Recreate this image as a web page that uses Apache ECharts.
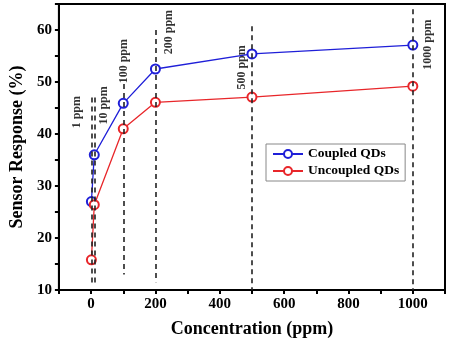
<!DOCTYPE html>
<html>
<head>
<meta charset="utf-8">
<script src="https://cdn.jsdelivr.net/npm/echarts@6/dist/echarts.min.js"></script>
<style>
html,body{margin:0;padding:0;background:#fff;}
#main{width:474px;height:352px;}
</style>
</head>
<body>
<div id="main"></div>
<script>
var conc = [1, 10, 100, 200, 500, 1000];
var coupled = [27, 36, 45.9, 52.5, 55.4, 57.1];
var uncoupled = [15.8, 26.4, 41.0, 46.1, 47.1, 49.2];
// dashed guide lines: x, top, bottom (data units)
var guideX = [1, 10, 100, 200, 500, 1000];
var guideTop = [47, 47, 49.6, 60, 60.7, 64];
var guideBot = [11, 11, 13, 11.5, 10, 10];
// rotated ppm labels: x, y, text
var tagX = [-43, 40, 102, 242, 468, 1047];
var tagY = [44.2, 45.5, 54, 59.6, 52.8, 57.2];
var tagText = ['1 ppm', '10 ppm', '100 ppm', '200 ppm', '500 ppm', '1000 ppm'];

var font = 'Liberation Serif';
var chart = echarts.init(document.getElementById('main'));

function pairs(xs, ys){
    var out = [];
    for (var i = 0; i < xs.length; i++) out.push([xs[i], ys[i]]);
    return out;
}

var guides = [];
for (var i = 0; i < guideX.length; i++) {
    guides.push([{coord: [guideX[i], guideTop[i]]}, {coord: [guideX[i], guideBot[i]]}]);
}
var tags = [];
for (var j = 0; j < tagX.length; j++) {
    tags.push({value: [tagX[j], tagY[j]], name: tagText[j]});
}

var option = {
    animation: false,
    grid: {left: 58, right: 29, top: 4, bottom: 62, show: true, borderColor: '#000', borderWidth: 2},
    legend: {
        orient: 'vertical',
        left: 266, top: 144,
        padding: [3, 6, 3, 6],
        itemGap: 3,
        itemWidth: 30, itemHeight: 10,
        borderColor: '#888', borderWidth: 1,
        data: ['Coupled QDs', 'Uncoupled QDs'],
        textStyle: {fontFamily: font, fontWeight: 'bold', fontSize: 13.5, color: '#000'}
    },
    xAxis: {
        type: 'value', min: -100, max: 1100, interval: 100,
        name: 'Concentration (ppm)', nameLocation: 'middle', nameGap: 30,
        nameTextStyle: {fontFamily: font, fontWeight: 'bold', fontSize: 18, color: '#000'},
        axisLine: {show: true, onZero: false, lineStyle: {color: '#000', width: 2}},
        axisTick: {show: true, length: 4, lineStyle: {color: '#000', width: 2}},
        splitLine: {show: false},
        axisLabel: {
            margin: 7, fontFamily: font, fontWeight: 'bold', fontSize: 15, color: '#000',
            formatter: function (v) { return (v % 200 === 0 && v >= 0 && v <= 1000) ? String(v) : ''; }
        }
    },
    yAxis: {
        type: 'value', min: 10, max: 65, interval: 5,
        name: 'Sensor Response (%)', nameLocation: 'middle', nameGap: 28,
        nameTextStyle: {fontFamily: font, fontWeight: 'bold', fontSize: 18, color: '#000'},
        axisLine: {show: true, onZero: false, lineStyle: {color: '#000', width: 2}},
        axisTick: {show: true, length: 4, lineStyle: {color: '#000', width: 2}},
        splitLine: {show: false},
        axisLabel: {
            margin: 7, fontFamily: font, fontWeight: 'bold', fontSize: 15, color: '#000',
            formatter: function (v) { return (v % 10 === 0) ? String(v) : ''; }
        }
    },
    series: [
        {
            name: 'Coupled QDs', type: 'line', data: pairs(conc, coupled),
            symbol: 'emptyCircle', symbolSize: 9, showSymbol: true,
            lineStyle: {width: 1.3, color: '#1f1fd8'},
            itemStyle: {color: '#1f1fd8', borderWidth: 0.9},
            z: 3
        },
        {
            name: 'Uncoupled QDs', type: 'line', data: pairs(conc, uncoupled),
            symbol: 'emptyCircle', symbolSize: 9, showSymbol: true,
            lineStyle: {width: 1.3, color: '#e8262a'},
            itemStyle: {color: '#e8262a', borderWidth: 0.9},
            z: 3,
            markLine: {
                silent: true, symbol: 'none',
                label: {show: false},
                lineStyle: {color: '#222', type: [5, 4], width: 1.6},
                data: guides
            }
        },
        {
            name: 'tags', type: 'scatter', symbolSize: 0, data: tags,
            label: {
                show: true, position: 'inside', rotate: 90,
                formatter: function (p) { return p.name; },
                fontFamily: font, fontWeight: 'bold', fontSize: 12, color: '#000'
            }
        }
    ]
};
chart.setOption(option);
</script>
</body>
</html>
